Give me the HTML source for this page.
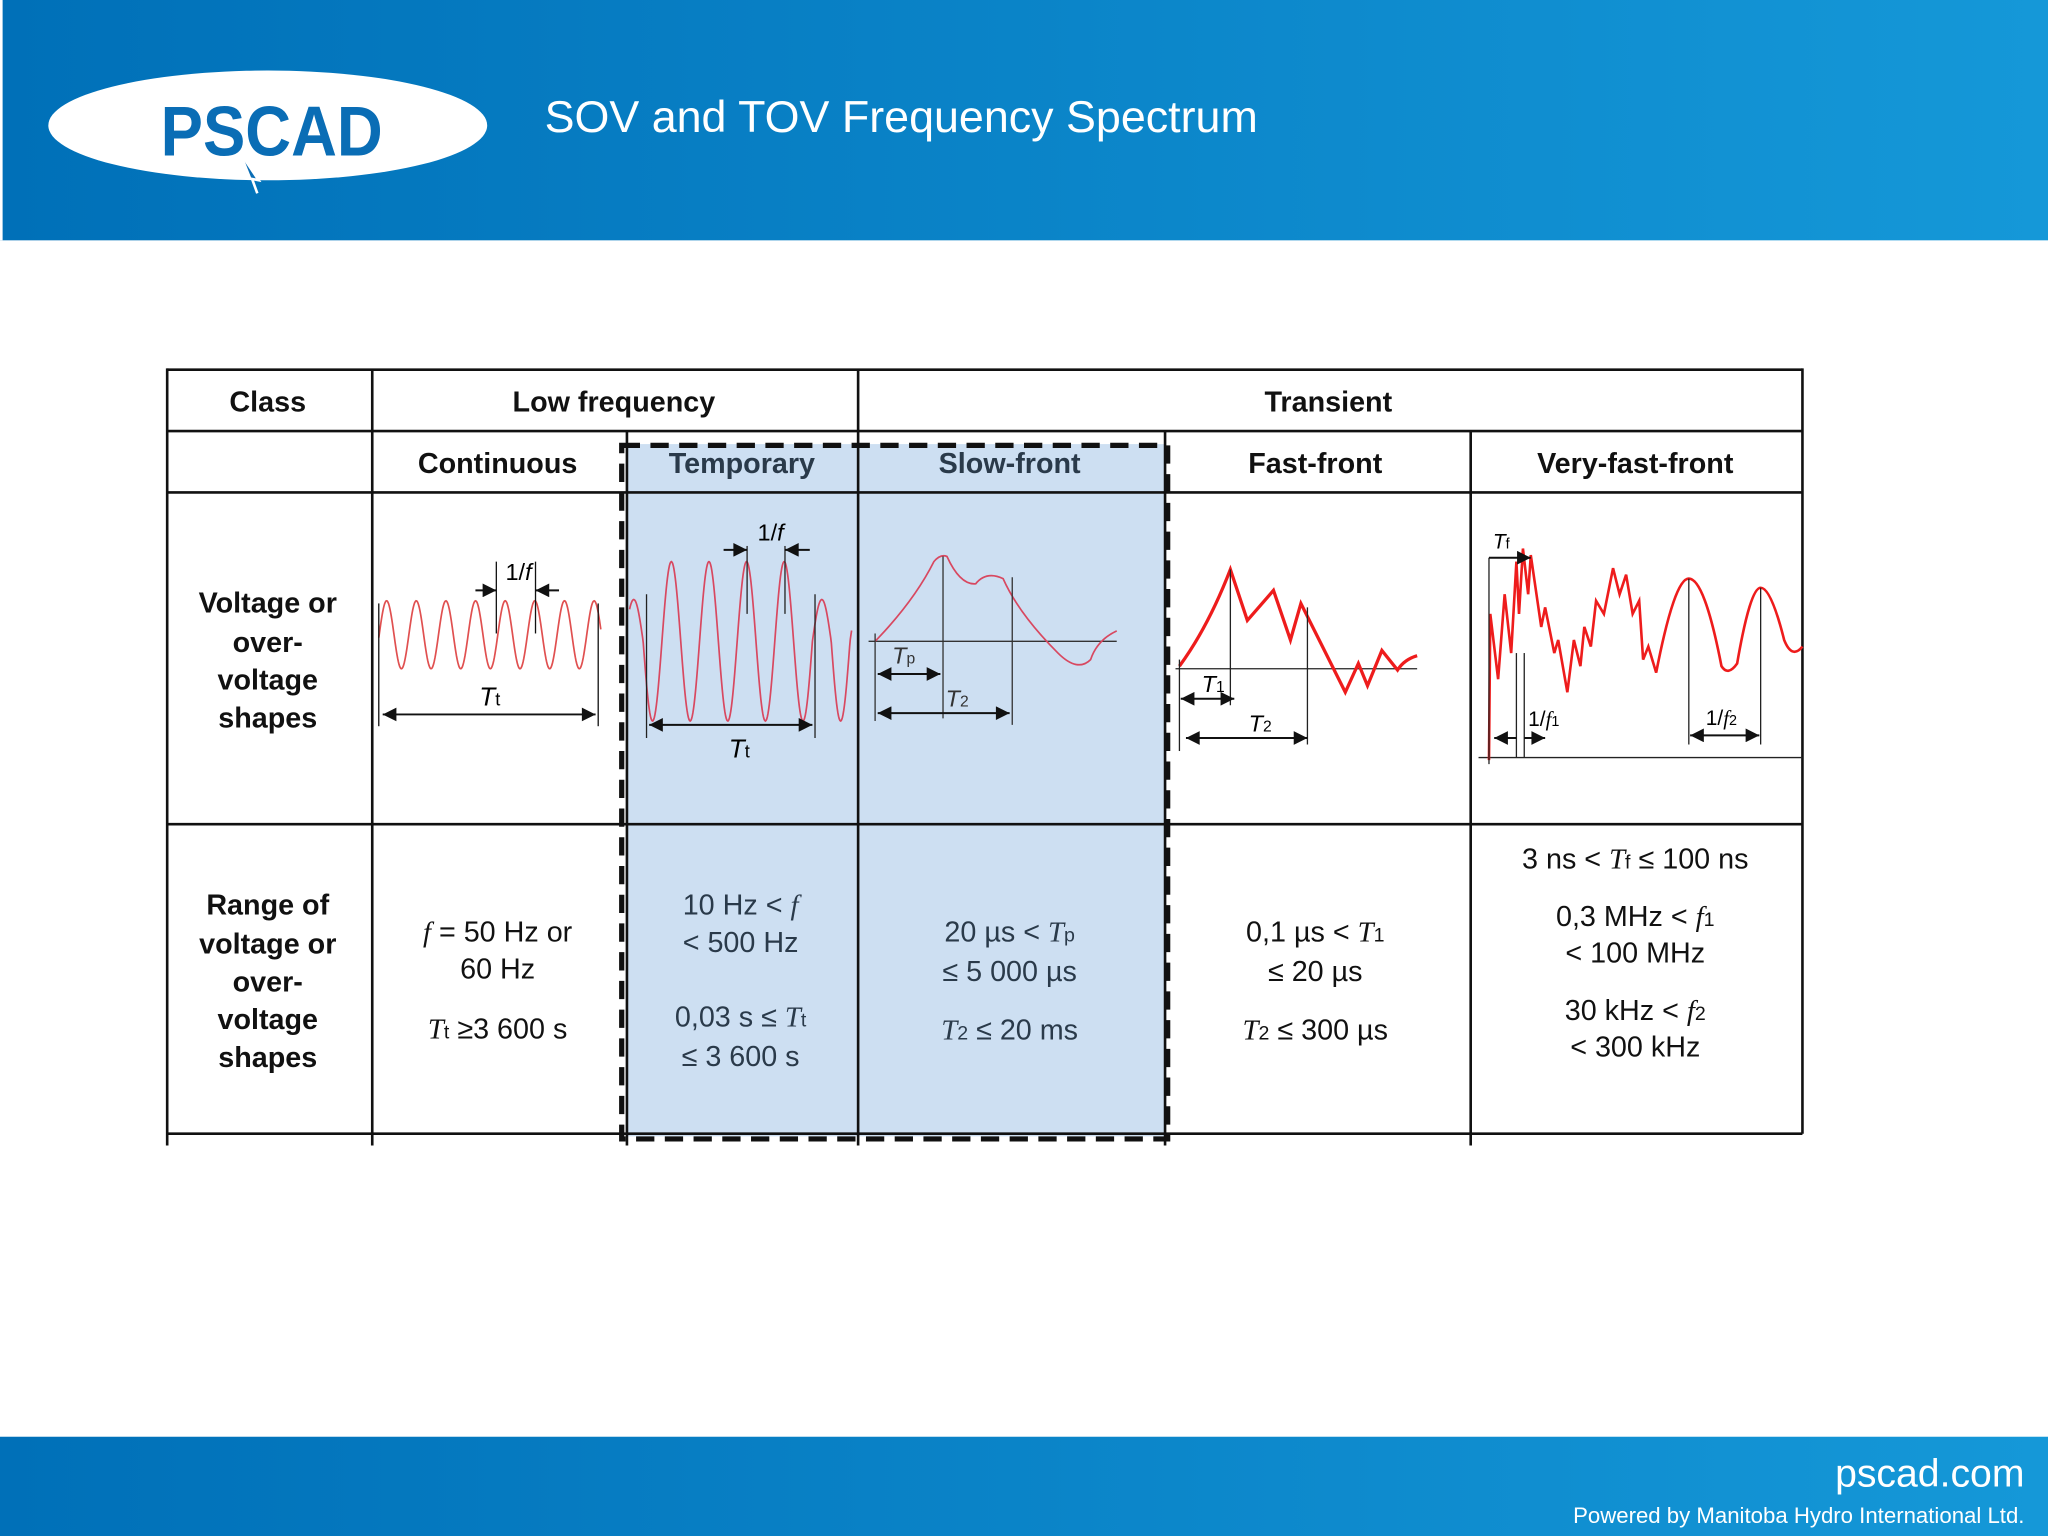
<!DOCTYPE html>
<html><head><meta charset="utf-8"><style>html,body{margin:0;padding:0;background:#fff}svg{display:block}text{font-family:"Liberation Sans",sans-serif}</style></head>
<body>
<svg width="2048" height="1536" viewBox="0 0 1568 1176" xmlns="http://www.w3.org/2000/svg">
<defs>
<linearGradient id="hg" x1="0" x2="1" y1="0" y2="0"><stop offset="0" stop-color="#0070b8"/><stop offset="1" stop-color="#1598d8"/></linearGradient>
<marker id="ah" viewBox="0 0 10 10" refX="10" refY="5" markerWidth="10" markerHeight="7" orient="auto-start-reverse"><path d="M0,0 L10,5 L0,10 z" fill="#111"/></marker>
</defs>
<rect x="0" y="0" width="1568" height="184" fill="url(#hg)"/>
<rect x="0" y="0" width="2" height="184" fill="#fff"/>
<g>
<ellipse cx="205" cy="96" rx="168" ry="42" fill="#fff"/>
<text x="123" y="119" font-size="54" font-weight="bold" fill="#0a6db5" textLength="170" lengthAdjust="spacingAndGlyphs">PSCAD</text>
<path d="M186,120 L198,138 L193,137 L197,148" stroke="#fff" stroke-width="2" fill="#0a6db5"/>
</g>
<text x="417" y="101" font-size="34" fill="#fff" textLength="546" lengthAdjust="spacingAndGlyphs">SOV and TOV Frequency Spectrum</text>

<rect x="480" y="340" width="412" height="530" fill="#cddff2"/>

<g stroke="#111" stroke-width="2" fill="none">
<line x1="128" y1="283" x2="1380" y2="283"/>
<line x1="128" y1="330" x2="1380" y2="330"/>
<line x1="128" y1="377" x2="1380" y2="377"/>
<line x1="128" y1="631" x2="1380" y2="631"/>
<line x1="128" y1="868" x2="1380" y2="868"/>
<line x1="128" y1="282" x2="128" y2="877"/>
<line x1="285" y1="283" x2="285" y2="877"/>
<line x1="657" y1="283" x2="657" y2="877"/>
<line x1="1380" y1="282" x2="1380" y2="868"/>
<line x1="480" y1="330" x2="480" y2="877"/>
<line x1="892" y1="330" x2="892" y2="877"/>
<line x1="1126" y1="330" x2="1126" y2="877"/>
</g>
<rect x="476" y="341" width="418" height="531" fill="none" stroke="#111" stroke-width="4" stroke-dasharray="14 8"/>

<g font-weight="bold" font-size="22" fill="#111" text-anchor="middle">
<text x="205" y="315">Class</text>
<text x="470" y="315">Low frequency</text>
<text x="1017" y="315">Transient</text>
<text x="381" y="362">Continuous</text>
<text x="568" y="362" fill="#2a3a4a">Temporary</text>
<text x="773" y="362" fill="#2a3a4a">Slow-front</text>
<text x="1007" y="362">Fast-front</text>
<text x="1252" y="362">Very-fast-front</text>
<text x="205" y="469">Voltage or</text><text x="205" y="499">over-</text><text x="205" y="528">voltage</text><text x="205" y="557">shapes</text>
<text x="205" y="700">Range of</text><text x="205" y="730">voltage or</text><text x="205" y="759">over-</text><text x="205" y="788">voltage</text><text x="205" y="817">shapes</text>
</g>
<g font-size="22" fill="#111" text-anchor="middle">
<text x="381" y="721"><tspan font-style="italic" font-family="Liberation Serif">f</tspan> = 50 Hz or</text>
<text x="381" y="749">60 Hz</text>
<text x="381" y="795"><tspan font-style="italic" font-family="Liberation Serif">T</tspan><tspan font-size="15">t</tspan> ≥3 600 s</text>
<g fill="#2a3a4a">
<text x="567" y="700">10 Hz &lt; <tspan font-style="italic" font-family="Liberation Serif">f</tspan></text>
<text x="567" y="729">&lt; 500 Hz</text>
<text x="567" y="786">0,03 s ≤ <tspan font-style="italic" font-family="Liberation Serif">T</tspan><tspan font-size="15">t</tspan></text>
<text x="567" y="816">≤ 3 600 s</text>
<text x="773" y="721">20 µs &lt; <tspan font-style="italic" font-family="Liberation Serif">T</tspan><tspan font-size="15">p</tspan></text>
<text x="773" y="751">≤ 5 000 µs</text>
<text x="773" y="796"><tspan font-style="italic" font-family="Liberation Serif">T</tspan><tspan font-size="15">2</tspan> ≤ 20 ms</text>
</g>
<text x="1007" y="721">0,1 µs &lt; <tspan font-style="italic" font-family="Liberation Serif">T</tspan><tspan font-size="15">1</tspan></text>
<text x="1007" y="751">≤ 20 µs</text>
<text x="1007" y="796"><tspan font-style="italic" font-family="Liberation Serif">T</tspan><tspan font-size="15">2</tspan> ≤ 300 µs</text>
<text x="1252" y="665">3 ns &lt; <tspan font-style="italic" font-family="Liberation Serif">T</tspan><tspan font-size="15">f</tspan>  ≤ 100 ns</text>
<text x="1252" y="709">0,3 MHz &lt; <tspan font-style="italic" font-family="Liberation Serif">f</tspan><tspan font-size="15">1</tspan></text>
<text x="1252" y="737">&lt; 100 MHz</text>
<text x="1252" y="781">30 kHz &lt; <tspan font-style="italic" font-family="Liberation Serif">f</tspan><tspan font-size="15">2</tspan></text>
<text x="1252" y="809">&lt; 300 kHz</text>
</g>

<!-- Continuous -->
<g>
<path id="contWave" d="" fill="none" stroke="#e05050" stroke-width="1.3"/>
<g stroke="#111" stroke-width="1"><line x1="290" y1="462" x2="290" y2="556"/><line x1="458" y1="462" x2="458" y2="556"/><line x1="380" y1="430" x2="380" y2="485"/><line x1="410" y1="430" x2="410" y2="485"/></g>
<line x1="293" y1="547" x2="456" y2="547" stroke="#111" stroke-width="1.5" marker-start="url(#ah)" marker-end="url(#ah)"/>
<line x1="364" y1="452" x2="380" y2="452" stroke="#111" stroke-width="1.5" marker-end="url(#ah)"/>
<line x1="428" y1="452" x2="410" y2="452" stroke="#111" stroke-width="1.5" marker-end="url(#ah)"/>
<text x="375" y="540" font-size="20" font-style="italic" font-family="Liberation Serif" text-anchor="middle">T<tspan font-size="14" font-style="normal">t</tspan></text>
<text x="397" y="444" font-size="18" font-family="Liberation Serif" text-anchor="middle">1/<tspan font-style="italic">f</tspan></text>
</g>
<!-- Temporary -->
<g>
<path id="tempWave" d="" fill="none" stroke="#d84860" stroke-width="1.3"/>
<g stroke="#222" stroke-width="1"><line x1="495" y1="455" x2="495" y2="565"/><line x1="624" y1="455" x2="624" y2="565"/><line x1="572" y1="418" x2="572" y2="470"/><line x1="601" y1="418" x2="601" y2="470"/></g>
<line x1="497" y1="555" x2="622" y2="555" stroke="#111" stroke-width="1.5" marker-start="url(#ah)" marker-end="url(#ah)"/>
<line x1="554" y1="421" x2="572" y2="421" stroke="#111" stroke-width="1.5" marker-end="url(#ah)"/>
<line x1="620" y1="421" x2="601" y2="421" stroke="#111" stroke-width="1.5" marker-end="url(#ah)"/>
<text x="566" y="580" font-size="20" font-style="italic" font-family="Liberation Serif" text-anchor="middle">T<tspan font-size="14" font-style="normal">t</tspan></text>
<text x="590" y="414" font-size="18" font-family="Liberation Serif" text-anchor="middle">1/<tspan font-style="italic">f</tspan></text>
</g>
<!-- Slow-front -->
<g>
<line x1="665" y1="491" x2="855" y2="491" stroke="#333" stroke-width="1"/>
<path d="M670,491 Q700,460 715,430 Q720,424 725,426 Q735,448 747,447 Q755,437 768,443 Q780,470 810,500 Q825,515 835,505 Q840,490 855,483" fill="none" stroke="#d84860" stroke-width="1.3"/>
<g stroke="#333" stroke-width="1"><line x1="722" y1="426" x2="722" y2="550"/><line x1="775" y1="442" x2="775" y2="555"/><line x1="670" y1="485" x2="670" y2="552"/></g>
<line x1="672" y1="516" x2="720" y2="516" stroke="#111" stroke-width="1.5" marker-start="url(#ah)" marker-end="url(#ah)"/>
<line x1="672" y1="546" x2="773" y2="546" stroke="#111" stroke-width="1.5" marker-start="url(#ah)" marker-end="url(#ah)"/>
<text x="683" y="508" font-size="18" font-style="italic" font-family="Liberation Serif" fill="#333">T<tspan font-size="12" font-style="normal">p</tspan></text>
<text x="724" y="541" font-size="18" font-style="italic" font-family="Liberation Serif" fill="#333">T<tspan font-size="12" font-style="normal">2</tspan></text>
</g>
<!-- Fast-front -->
<g>
<line x1="900" y1="512" x2="1085" y2="512" stroke="#222" stroke-width="1"/>
<path d="M903,510 Q925,480 942,436 L955,475 L975,452 L988,490 L996,462 L1030,530 L1040,508 L1047,525 L1058,498 L1070,513 Q1075,505 1085,502" fill="none" stroke="#ee1c1c" stroke-width="2.5"/>
<g stroke="#222" stroke-width="1"><line x1="942" y1="436" x2="942" y2="540"/><line x1="1001" y1="465" x2="1001" y2="570"/><line x1="903" y1="505" x2="903" y2="575"/></g>
<line x1="904" y1="535" x2="945" y2="535" stroke="#111" stroke-width="1.5" marker-start="url(#ah)" marker-end="url(#ah)"/>
<line x1="908" y1="565" x2="1001" y2="565" stroke="#111" stroke-width="1.5" marker-start="url(#ah)" marker-end="url(#ah)"/>
<text x="920" y="530" font-size="18" font-style="italic" font-family="Liberation Serif">T<tspan font-size="12" font-style="normal">1</tspan></text>
<text x="956" y="560" font-size="18" font-style="italic" font-family="Liberation Serif">T<tspan font-size="12" font-style="normal">2</tspan></text>
</g>
<!-- Very-fast-front -->
<g>
<line x1="1132" y1="580" x2="1380" y2="580" stroke="#222" stroke-width="1"/>
<path d="M1140,582 L1141,470 L1147,520 L1152,455 L1157,500 L1161,430 L1163,470 L1166,420 L1170,455 L1172,425 L1180,480 L1183,465 L1190,500 L1193,490 L1200,530 L1205,490 L1210,510 L1213,480 L1218,495 L1222,460 L1228,470 L1235,435 L1240,455 L1245,440 L1250,470 L1255,460 L1258,505 L1262,495 L1268,515 Q1282,443 1293,443 Q1305,443 1318,510 Q1323,518 1330,508 Q1340,450 1348,450 Q1356,450 1366,490 Q1372,505 1380,495" fill="none" stroke="#ee1c1c" stroke-width="2"/>
<g stroke="#222" stroke-width="1"><line x1="1140" y1="427" x2="1140" y2="585"/><line x1="1161" y1="500" x2="1161" y2="580"/><line x1="1167" y1="500" x2="1167" y2="580"/><line x1="1293" y1="443" x2="1293" y2="570"/><line x1="1348" y1="450" x2="1348" y2="570"/></g>
<line x1="1140" y1="427" x2="1172" y2="427" stroke="#111" stroke-width="1.5" marker-end="url(#ah)"/>
<line x1="1144" y1="565" x2="1161" y2="565" stroke="#111" stroke-width="1.5" marker-start="url(#ah)"/>
<line x1="1167" y1="565" x2="1183" y2="565" stroke="#111" stroke-width="1.5" marker-end="url(#ah)"/>
<line x1="1294" y1="563" x2="1347" y2="563" stroke="#111" stroke-width="1.5" marker-start="url(#ah)" marker-end="url(#ah)"/>
<text x="1143" y="420" font-size="16" font-style="italic" font-family="Liberation Serif">T<tspan font-size="11" font-style="normal">f</tspan></text>
<text x="1170" y="556" font-size="16">1/<tspan font-style="italic" font-family="Liberation Serif">f</tspan><tspan font-size="11">1</tspan></text>
<text x="1306" y="555" font-size="16">1/<tspan font-style="italic" font-family="Liberation Serif">f</tspan><tspan font-size="11">2</tspan></text>
</g>

<rect x="0" y="1100" width="1568" height="76" fill="url(#hg)"/>
<text x="1550" y="1138" font-size="30" fill="#fff" text-anchor="end">pscad.com</text>
<text x="1550" y="1166" font-size="17" fill="#fff" text-anchor="end">Powered by Manitoba Hydro International Ltd.</text>
<script>
function wave(x0,x1,cy,period,peakX,ampFn){
  var d='';
  for(var x=x0;x<=x1;x+=0.5){
    var s=Math.cos(2*Math.PI*(x-peakX)/period);
    var y=cy-s*ampFn(x,s);
    d+=(d?' L':'M')+x.toFixed(1)+','+y.toFixed(1);
  }
  return d;
}
document.getElementById('contWave').setAttribute('d',wave(290,460,486,22.7,296,function(){return 26;}));
document.getElementById('tempWave').setAttribute('d',wave(482,652,491,28.8,514,function(x,s){return (s>0&&(x<500||x>615))?32:61;}));
</script>
</svg>
</body></html>
